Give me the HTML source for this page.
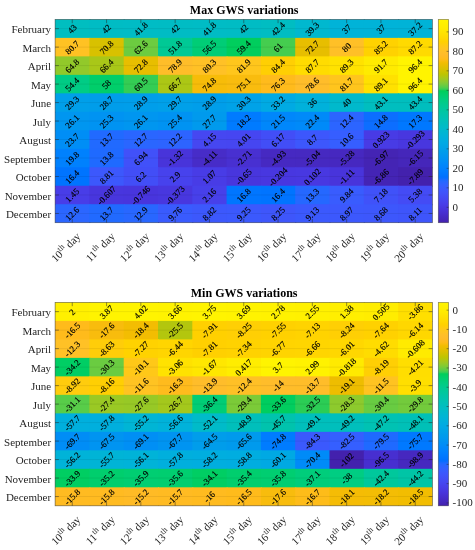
<!DOCTYPE html>
<html><head><meta charset="utf-8"><title>GWS variations</title><style>
html,body{margin:0;padding:0;background:#fff}
svg{display:block;font-family:"Liberation Serif",serif}
text{fill:#262626}
.title{font-weight:bold;font-size:12px;fill:#000}
.v text{font-size:8.8px;fill:#000;text-anchor:middle;stroke:#000;stroke-width:0.15px}
.yl text{font-size:11px;text-anchor:end}
.cl text{font-size:11px;text-anchor:start}
.xl text{font-size:11px;text-anchor:end}
.sup{font-size:8.4px}
</style></head><body>
<svg width="475" height="550" viewBox="0 0 475 550">
<rect width="475" height="550" fill="#fff"/>
<text class="title" x="244.15" y="14.4" text-anchor="middle">Max GWS variations</text>
<g transform="translate(55.1,19.4)">
<g>
<rect x="0" y="0" width="35.3" height="19.48" fill="#00bec0"/>
<rect x="34.3" y="0" width="35.3" height="19.48" fill="#00bcc4"/>
<rect x="68.6" y="0" width="35.3" height="19.48" fill="#00bcc5"/>
<rect x="102.9" y="0" width="35.3" height="19.48" fill="#00bcc4"/>
<rect x="137.2" y="0" width="35.3" height="19.48" fill="#00bcc5"/>
<rect x="171.5" y="0" width="35.3" height="19.48" fill="#00bcc4"/>
<rect x="205.8" y="0" width="35.3" height="19.48" fill="#00bdc2"/>
<rect x="240.1" y="0" width="35.3" height="19.48" fill="#00b8cf"/>
<rect x="274.4" y="0" width="35.3" height="19.48" fill="#00b3d8"/>
<rect x="308.7" y="0" width="35.3" height="19.48" fill="#00b3d8"/>
<rect x="343" y="0" width="34.3" height="19.48" fill="#00b3d7"/>
<rect x="0" y="18.48" width="35.3" height="19.48" fill="#ffc223"/>
<rect x="34.3" y="18.48" width="35.3" height="19.48" fill="#d8c100"/>
<rect x="68.6" y="18.48" width="35.3" height="19.48" fill="#6ccc40"/>
<rect x="102.9" y="18.48" width="35.3" height="19.48" fill="#00c995"/>
<rect x="137.2" y="18.48" width="35.3" height="19.48" fill="#00cd76"/>
<rect x="171.5" y="18.48" width="35.3" height="19.48" fill="#00ce5d"/>
<rect x="205.8" y="18.48" width="35.3" height="19.48" fill="#45cd4f"/>
<rect x="240.1" y="18.48" width="35.3" height="19.48" fill="#e7be00"/>
<rect x="274.4" y="18.48" width="35.3" height="19.48" fill="#ffc027"/>
<rect x="308.7" y="18.48" width="35.3" height="19.48" fill="#ffd200"/>
<rect x="343" y="18.48" width="34.3" height="19.48" fill="#ffda00"/>
<rect x="0" y="36.96" width="35.3" height="19.48" fill="#92c92a"/>
<rect x="34.3" y="36.96" width="35.3" height="19.48" fill="#a9c718"/>
<rect x="68.6" y="36.96" width="35.3" height="19.48" fill="#e8be00"/>
<rect x="102.9" y="36.96" width="35.3" height="19.48" fill="#ffbd29"/>
<rect x="137.2" y="36.96" width="35.3" height="19.48" fill="#ffc126"/>
<rect x="171.5" y="36.96" width="35.3" height="19.48" fill="#ffc61c"/>
<rect x="205.8" y="36.96" width="35.3" height="19.48" fill="#ffcf03"/>
<rect x="240.1" y="36.96" width="35.3" height="19.48" fill="#ffdc00"/>
<rect x="274.4" y="36.96" width="35.3" height="19.48" fill="#ffe200"/>
<rect x="308.7" y="36.96" width="35.3" height="19.48" fill="#ffeb00"/>
<rect x="343" y="36.96" width="34.3" height="19.48" fill="#fff400"/>
<rect x="0" y="55.45" width="35.3" height="19.48" fill="#00cc85"/>
<rect x="34.3" y="55.45" width="35.3" height="19.48" fill="#00ce6a"/>
<rect x="68.6" y="55.45" width="35.3" height="19.48" fill="#34cd54"/>
<rect x="102.9" y="55.45" width="35.3" height="19.48" fill="#acc715"/>
<rect x="137.2" y="55.45" width="35.3" height="19.48" fill="#f7bc09"/>
<rect x="171.5" y="55.45" width="35.3" height="19.48" fill="#f9bc0e"/>
<rect x="205.8" y="55.45" width="35.3" height="19.48" fill="#ffbb1c"/>
<rect x="240.1" y="55.45" width="35.3" height="19.48" fill="#ffbd2a"/>
<rect x="274.4" y="55.45" width="35.3" height="19.48" fill="#ffc51d"/>
<rect x="308.7" y="55.45" width="35.3" height="19.48" fill="#ffe100"/>
<rect x="343" y="55.45" width="34.3" height="19.48" fill="#fff400"/>
<rect x="0" y="73.93" width="35.3" height="19.48" fill="#009fe9"/>
<rect x="34.3" y="73.93" width="35.3" height="19.48" fill="#009dea"/>
<rect x="68.6" y="73.93" width="35.3" height="19.48" fill="#009eea"/>
<rect x="102.9" y="73.93" width="35.3" height="19.48" fill="#00a0e9"/>
<rect x="137.2" y="73.93" width="35.3" height="19.48" fill="#009eea"/>
<rect x="171.5" y="73.93" width="35.3" height="19.48" fill="#00a2e8"/>
<rect x="205.8" y="73.93" width="35.3" height="19.48" fill="#00aae3"/>
<rect x="240.1" y="73.93" width="35.3" height="19.48" fill="#00b1db"/>
<rect x="274.4" y="73.93" width="35.3" height="19.48" fill="#00b9cc"/>
<rect x="308.7" y="73.93" width="35.3" height="19.48" fill="#00bebf"/>
<rect x="343" y="73.93" width="34.3" height="19.48" fill="#00bebe"/>
<rect x="0" y="92.41" width="35.3" height="19.48" fill="#0096f0"/>
<rect x="34.3" y="92.41" width="35.3" height="19.48" fill="#0093f2"/>
<rect x="68.6" y="92.41" width="35.3" height="19.48" fill="#0096f0"/>
<rect x="102.9" y="92.41" width="35.3" height="19.48" fill="#0093f2"/>
<rect x="137.2" y="92.41" width="35.3" height="19.48" fill="#009aed"/>
<rect x="171.5" y="92.41" width="35.3" height="19.48" fill="#007bff"/>
<rect x="205.8" y="92.41" width="35.3" height="19.48" fill="#0087fb"/>
<rect x="240.1" y="92.41" width="35.3" height="19.48" fill="#008af9"/>
<rect x="274.4" y="92.41" width="35.3" height="19.48" fill="#2c65ff"/>
<rect x="308.7" y="92.41" width="35.3" height="19.48" fill="#0c6eff"/>
<rect x="343" y="92.41" width="34.3" height="19.48" fill="#0078ff"/>
<rect x="0" y="110.89" width="35.3" height="19.48" fill="#008ef6"/>
<rect x="34.3" y="110.89" width="35.3" height="19.48" fill="#216aff"/>
<rect x="68.6" y="110.89" width="35.3" height="19.48" fill="#2a66ff"/>
<rect x="102.9" y="110.89" width="35.3" height="19.48" fill="#2d64ff"/>
<rect x="137.2" y="110.89" width="35.3" height="19.48" fill="#4647f1"/>
<rect x="171.5" y="110.89" width="35.3" height="19.48" fill="#4646f1"/>
<rect x="205.8" y="110.89" width="35.3" height="19.48" fill="#424ef7"/>
<rect x="240.1" y="110.89" width="35.3" height="19.48" fill="#3d57fc"/>
<rect x="274.4" y="110.89" width="35.3" height="19.48" fill="#365eff"/>
<rect x="308.7" y="110.89" width="35.3" height="19.48" fill="#483be5"/>
<rect x="343" y="110.89" width="34.3" height="19.48" fill="#4837df"/>
<rect x="0" y="129.37" width="35.3" height="19.48" fill="#0081fe"/>
<rect x="34.3" y="129.37" width="35.3" height="19.48" fill="#1f6aff"/>
<rect x="68.6" y="129.37" width="35.3" height="19.48" fill="#4151f9"/>
<rect x="102.9" y="129.37" width="35.3" height="19.48" fill="#4834da"/>
<rect x="137.2" y="129.37" width="35.3" height="19.48" fill="#472cc8"/>
<rect x="171.5" y="129.37" width="35.3" height="19.48" fill="#4830d1"/>
<rect x="205.8" y="129.37" width="35.3" height="19.48" fill="#4629c2"/>
<rect x="240.1" y="129.37" width="35.3" height="19.48" fill="#4629c1"/>
<rect x="274.4" y="129.37" width="35.3" height="19.48" fill="#4628c0"/>
<rect x="308.7" y="129.37" width="35.3" height="19.48" fill="#4424b4"/>
<rect x="343" y="129.37" width="34.3" height="19.48" fill="#4526ba"/>
<rect x="0" y="147.85" width="35.3" height="19.48" fill="#0074ff"/>
<rect x="34.3" y="147.85" width="35.3" height="19.48" fill="#3c58fc"/>
<rect x="68.6" y="147.85" width="35.3" height="19.48" fill="#424ef7"/>
<rect x="102.9" y="147.85" width="35.3" height="19.48" fill="#4742ed"/>
<rect x="137.2" y="147.85" width="35.3" height="19.48" fill="#483ce6"/>
<rect x="171.5" y="147.85" width="35.3" height="19.48" fill="#4836dd"/>
<rect x="205.8" y="147.85" width="35.3" height="19.48" fill="#4837e0"/>
<rect x="240.1" y="147.85" width="35.3" height="19.48" fill="#4838e1"/>
<rect x="274.4" y="147.85" width="35.3" height="19.48" fill="#4834db"/>
<rect x="308.7" y="147.85" width="35.3" height="19.48" fill="#4424b5"/>
<rect x="343" y="147.85" width="34.3" height="19.48" fill="#4321ad"/>
<rect x="0" y="166.34" width="35.3" height="19.48" fill="#483de8"/>
<rect x="34.3" y="166.34" width="35.3" height="19.48" fill="#4836de"/>
<rect x="68.6" y="166.34" width="35.3" height="19.48" fill="#4835dd"/>
<rect x="102.9" y="166.34" width="35.3" height="19.48" fill="#4837df"/>
<rect x="137.2" y="166.34" width="35.3" height="19.48" fill="#4740ea"/>
<rect x="171.5" y="166.34" width="35.3" height="19.48" fill="#0076ff"/>
<rect x="205.8" y="166.34" width="35.3" height="19.48" fill="#0074ff"/>
<rect x="240.1" y="166.34" width="35.3" height="19.48" fill="#2568ff"/>
<rect x="274.4" y="166.34" width="35.3" height="19.48" fill="#395cfe"/>
<rect x="308.7" y="166.34" width="35.3" height="19.48" fill="#4052f9"/>
<rect x="343" y="166.34" width="34.3" height="19.48" fill="#444bf5"/>
<rect x="0" y="184.82" width="35.3" height="18.48" fill="#2b66ff"/>
<rect x="34.3" y="184.82" width="35.3" height="18.48" fill="#216aff"/>
<rect x="68.6" y="184.82" width="35.3" height="18.48" fill="#2867ff"/>
<rect x="102.9" y="184.82" width="35.3" height="18.48" fill="#395bfe"/>
<rect x="137.2" y="184.82" width="35.3" height="18.48" fill="#3c58fc"/>
<rect x="171.5" y="184.82" width="35.3" height="18.48" fill="#3b59fd"/>
<rect x="205.8" y="184.82" width="35.3" height="18.48" fill="#3e56fb"/>
<rect x="240.1" y="184.82" width="35.3" height="18.48" fill="#3b59fd"/>
<rect x="274.4" y="184.82" width="35.3" height="18.48" fill="#3c58fd"/>
<rect x="308.7" y="184.82" width="35.3" height="18.48" fill="#3d57fc"/>
<rect x="343" y="184.82" width="34.3" height="18.48" fill="#3e55fb"/>
</g>
<g stroke="#000" stroke-opacity="0.1" stroke-width="0.7">
<line x1="0" x2="377.3" y1="9.24" y2="9.24"/>
<line x1="0" x2="377.3" y1="27.72" y2="27.72"/>
<line x1="0" x2="377.3" y1="46.2" y2="46.2"/>
<line x1="0" x2="377.3" y1="64.69" y2="64.69"/>
<line x1="0" x2="377.3" y1="83.17" y2="83.17"/>
<line x1="0" x2="377.3" y1="101.65" y2="101.65"/>
<line x1="0" x2="377.3" y1="120.13" y2="120.13"/>
<line x1="0" x2="377.3" y1="138.61" y2="138.61"/>
<line x1="0" x2="377.3" y1="157.1" y2="157.1"/>
<line x1="0" x2="377.3" y1="175.58" y2="175.58"/>
<line x1="0" x2="377.3" y1="194.06" y2="194.06"/>
</g>
<g stroke="#262626" stroke-opacity="0.7" stroke-width="0.7">
<line x1="0" x2="3.8" y1="9.24" y2="9.24"/>
<line x1="373.5" x2="377.3" y1="9.24" y2="9.24"/>
<line x1="0" x2="3.8" y1="27.72" y2="27.72"/>
<line x1="373.5" x2="377.3" y1="27.72" y2="27.72"/>
<line x1="0" x2="3.8" y1="46.2" y2="46.2"/>
<line x1="373.5" x2="377.3" y1="46.2" y2="46.2"/>
<line x1="0" x2="3.8" y1="64.69" y2="64.69"/>
<line x1="373.5" x2="377.3" y1="64.69" y2="64.69"/>
<line x1="0" x2="3.8" y1="83.17" y2="83.17"/>
<line x1="373.5" x2="377.3" y1="83.17" y2="83.17"/>
<line x1="0" x2="3.8" y1="101.65" y2="101.65"/>
<line x1="373.5" x2="377.3" y1="101.65" y2="101.65"/>
<line x1="0" x2="3.8" y1="120.13" y2="120.13"/>
<line x1="373.5" x2="377.3" y1="120.13" y2="120.13"/>
<line x1="0" x2="3.8" y1="138.61" y2="138.61"/>
<line x1="373.5" x2="377.3" y1="138.61" y2="138.61"/>
<line x1="0" x2="3.8" y1="157.1" y2="157.1"/>
<line x1="373.5" x2="377.3" y1="157.1" y2="157.1"/>
<line x1="0" x2="3.8" y1="175.58" y2="175.58"/>
<line x1="373.5" x2="377.3" y1="175.58" y2="175.58"/>
<line x1="0" x2="3.8" y1="194.06" y2="194.06"/>
<line x1="373.5" x2="377.3" y1="194.06" y2="194.06"/>
<line x1="17.15" x2="17.15" y1="0" y2="3.8"/>
<line x1="17.15" x2="17.15" y1="199.5" y2="203.3"/>
<line x1="51.45" x2="51.45" y1="0" y2="3.8"/>
<line x1="51.45" x2="51.45" y1="199.5" y2="203.3"/>
<line x1="85.75" x2="85.75" y1="0" y2="3.8"/>
<line x1="85.75" x2="85.75" y1="199.5" y2="203.3"/>
<line x1="120.05" x2="120.05" y1="0" y2="3.8"/>
<line x1="120.05" x2="120.05" y1="199.5" y2="203.3"/>
<line x1="154.35" x2="154.35" y1="0" y2="3.8"/>
<line x1="154.35" x2="154.35" y1="199.5" y2="203.3"/>
<line x1="188.65" x2="188.65" y1="0" y2="3.8"/>
<line x1="188.65" x2="188.65" y1="199.5" y2="203.3"/>
<line x1="222.95" x2="222.95" y1="0" y2="3.8"/>
<line x1="222.95" x2="222.95" y1="199.5" y2="203.3"/>
<line x1="257.25" x2="257.25" y1="0" y2="3.8"/>
<line x1="257.25" x2="257.25" y1="199.5" y2="203.3"/>
<line x1="291.55" x2="291.55" y1="0" y2="3.8"/>
<line x1="291.55" x2="291.55" y1="199.5" y2="203.3"/>
<line x1="325.85" x2="325.85" y1="0" y2="3.8"/>
<line x1="325.85" x2="325.85" y1="199.5" y2="203.3"/>
<line x1="360.15" x2="360.15" y1="0" y2="3.8"/>
<line x1="360.15" x2="360.15" y1="199.5" y2="203.3"/>
</g>
<g class="v">
<text transform="translate(17.15,9.64) rotate(-45)" y="2.9">43</text>
<text transform="translate(51.45,9.64) rotate(-45)" y="2.9">42</text>
<text transform="translate(85.75,9.64) rotate(-45)" y="2.9">41.8</text>
<text transform="translate(120.05,9.64) rotate(-45)" y="2.9">42</text>
<text transform="translate(154.35,9.64) rotate(-45)" y="2.9">41.8</text>
<text transform="translate(188.65,9.64) rotate(-45)" y="2.9">42</text>
<text transform="translate(222.95,9.64) rotate(-45)" y="2.9">42.4</text>
<text transform="translate(257.25,9.64) rotate(-45)" y="2.9">39.3</text>
<text transform="translate(291.55,9.64) rotate(-45)" y="2.9">37</text>
<text transform="translate(325.85,9.64) rotate(-45)" y="2.9">37</text>
<text transform="translate(360.15,9.64) rotate(-45)" y="2.9">37.2</text>
<text transform="translate(17.15,28.12) rotate(-45)" y="2.9">80.7</text>
<text transform="translate(51.45,28.12) rotate(-45)" y="2.9">70.8</text>
<text transform="translate(85.75,28.12) rotate(-45)" y="2.9">62.6</text>
<text transform="translate(120.05,28.12) rotate(-45)" y="2.9">51.8</text>
<text transform="translate(154.35,28.12) rotate(-45)" y="2.9">56.5</text>
<text transform="translate(188.65,28.12) rotate(-45)" y="2.9">59.4</text>
<text transform="translate(222.95,28.12) rotate(-45)" y="2.9">61</text>
<text transform="translate(257.25,28.12) rotate(-45)" y="2.9">72.7</text>
<text transform="translate(291.55,28.12) rotate(-45)" y="2.9">80</text>
<text transform="translate(325.85,28.12) rotate(-45)" y="2.9">85.2</text>
<text transform="translate(360.15,28.12) rotate(-45)" y="2.9">87.2</text>
<text transform="translate(17.15,46.6) rotate(-45)" y="2.9">64.8</text>
<text transform="translate(51.45,46.6) rotate(-45)" y="2.9">66.4</text>
<text transform="translate(85.75,46.6) rotate(-45)" y="2.9">72.8</text>
<text transform="translate(120.05,46.6) rotate(-45)" y="2.9">78.9</text>
<text transform="translate(154.35,46.6) rotate(-45)" y="2.9">80.3</text>
<text transform="translate(188.65,46.6) rotate(-45)" y="2.9">81.9</text>
<text transform="translate(222.95,46.6) rotate(-45)" y="2.9">84.4</text>
<text transform="translate(257.25,46.6) rotate(-45)" y="2.9">87.7</text>
<text transform="translate(291.55,46.6) rotate(-45)" y="2.9">89.3</text>
<text transform="translate(325.85,46.6) rotate(-45)" y="2.9">91.7</text>
<text transform="translate(360.15,46.6) rotate(-45)" y="2.9">96.4</text>
<text transform="translate(17.15,65.09) rotate(-45)" y="2.9">54.4</text>
<text transform="translate(51.45,65.09) rotate(-45)" y="2.9">58</text>
<text transform="translate(85.75,65.09) rotate(-45)" y="2.9">60.5</text>
<text transform="translate(120.05,65.09) rotate(-45)" y="2.9">66.7</text>
<text transform="translate(154.35,65.09) rotate(-45)" y="2.9">74.8</text>
<text transform="translate(188.65,65.09) rotate(-45)" y="2.9">75.1</text>
<text transform="translate(222.95,65.09) rotate(-45)" y="2.9">76.3</text>
<text transform="translate(257.25,65.09) rotate(-45)" y="2.9">78.6</text>
<text transform="translate(291.55,65.09) rotate(-45)" y="2.9">81.7</text>
<text transform="translate(325.85,65.09) rotate(-45)" y="2.9">89.1</text>
<text transform="translate(360.15,65.09) rotate(-45)" y="2.9">96.4</text>
<text transform="translate(17.15,83.57) rotate(-45)" y="2.9">29.3</text>
<text transform="translate(51.45,83.57) rotate(-45)" y="2.9">28.7</text>
<text transform="translate(85.75,83.57) rotate(-45)" y="2.9">28.9</text>
<text transform="translate(120.05,83.57) rotate(-45)" y="2.9">29.7</text>
<text transform="translate(154.35,83.57) rotate(-45)" y="2.9">28.9</text>
<text transform="translate(188.65,83.57) rotate(-45)" y="2.9">30.3</text>
<text transform="translate(222.95,83.57) rotate(-45)" y="2.9">33.2</text>
<text transform="translate(257.25,83.57) rotate(-45)" y="2.9">36</text>
<text transform="translate(291.55,83.57) rotate(-45)" y="2.9">40</text>
<text transform="translate(325.85,83.57) rotate(-45)" y="2.9">43.1</text>
<text transform="translate(360.15,83.57) rotate(-45)" y="2.9">43.4</text>
<text transform="translate(17.15,102.05) rotate(-45)" y="2.9">26.1</text>
<text transform="translate(51.45,102.05) rotate(-45)" y="2.9">25.3</text>
<text transform="translate(85.75,102.05) rotate(-45)" y="2.9">26.1</text>
<text transform="translate(120.05,102.05) rotate(-45)" y="2.9">25.4</text>
<text transform="translate(154.35,102.05) rotate(-45)" y="2.9">27.7</text>
<text transform="translate(188.65,102.05) rotate(-45)" y="2.9">18.2</text>
<text transform="translate(222.95,102.05) rotate(-45)" y="2.9">21.5</text>
<text transform="translate(257.25,102.05) rotate(-45)" y="2.9">22.4</text>
<text transform="translate(291.55,102.05) rotate(-45)" y="2.9">12.4</text>
<text transform="translate(325.85,102.05) rotate(-45)" y="2.9">14.8</text>
<text transform="translate(360.15,102.05) rotate(-45)" y="2.9">17.3</text>
<text transform="translate(17.15,120.53) rotate(-45)" y="2.9">23.7</text>
<text transform="translate(51.45,120.53) rotate(-45)" y="2.9">13.7</text>
<text transform="translate(85.75,120.53) rotate(-45)" y="2.9">12.7</text>
<text transform="translate(120.05,120.53) rotate(-45)" y="2.9">12.2</text>
<text transform="translate(154.35,120.53) rotate(-45)" y="2.9">4.15</text>
<text transform="translate(188.65,120.53) rotate(-45)" y="2.9">4.01</text>
<text transform="translate(222.95,120.53) rotate(-45)" y="2.9">6.17</text>
<text transform="translate(257.25,120.53) rotate(-45)" y="2.9">8.7</text>
<text transform="translate(291.55,120.53) rotate(-45)" y="2.9">10.6</text>
<text transform="translate(325.85,120.53) rotate(-45)" y="2.9">0.923</text>
<text transform="translate(360.15,120.53) rotate(-45)" y="2.9">-0.293</text>
<text transform="translate(17.15,139.01) rotate(-45)" y="2.9">19.8</text>
<text transform="translate(51.45,139.01) rotate(-45)" y="2.9">13.8</text>
<text transform="translate(85.75,139.01) rotate(-45)" y="2.9">6.94</text>
<text transform="translate(120.05,139.01) rotate(-45)" y="2.9">-1.32</text>
<text transform="translate(154.35,139.01) rotate(-45)" y="2.9">-4.11</text>
<text transform="translate(188.65,139.01) rotate(-45)" y="2.9">-2.71</text>
<text transform="translate(222.95,139.01) rotate(-45)" y="2.9">-4.93</text>
<text transform="translate(257.25,139.01) rotate(-45)" y="2.9">-5.04</text>
<text transform="translate(291.55,139.01) rotate(-45)" y="2.9">-5.28</text>
<text transform="translate(325.85,139.01) rotate(-45)" y="2.9">-6.97</text>
<text transform="translate(360.15,139.01) rotate(-45)" y="2.9">-6.15</text>
<text transform="translate(17.15,157.5) rotate(-45)" y="2.9">16.4</text>
<text transform="translate(51.45,157.5) rotate(-45)" y="2.9">8.81</text>
<text transform="translate(85.75,157.5) rotate(-45)" y="2.9">6.2</text>
<text transform="translate(120.05,157.5) rotate(-45)" y="2.9">2.9</text>
<text transform="translate(154.35,157.5) rotate(-45)" y="2.9">1.07</text>
<text transform="translate(188.65,157.5) rotate(-45)" y="2.9">-0.65</text>
<text transform="translate(222.95,157.5) rotate(-45)" y="2.9">-0.204</text>
<text transform="translate(257.25,157.5) rotate(-45)" y="2.9">0.102</text>
<text transform="translate(291.55,157.5) rotate(-45)" y="2.9">-1.11</text>
<text transform="translate(325.85,157.5) rotate(-45)" y="2.9">-6.86</text>
<text transform="translate(360.15,157.5) rotate(-45)" y="2.9">-7.89</text>
<text transform="translate(17.15,175.98) rotate(-45)" y="2.9">1.45</text>
<text transform="translate(51.45,175.98) rotate(-45)" y="2.9">-0.607</text>
<text transform="translate(85.75,175.98) rotate(-45)" y="2.9">-0.746</text>
<text transform="translate(120.05,175.98) rotate(-45)" y="2.9">-0.373</text>
<text transform="translate(154.35,175.98) rotate(-45)" y="2.9">2.16</text>
<text transform="translate(188.65,175.98) rotate(-45)" y="2.9">16.8</text>
<text transform="translate(222.95,175.98) rotate(-45)" y="2.9">16.4</text>
<text transform="translate(257.25,175.98) rotate(-45)" y="2.9">13.3</text>
<text transform="translate(291.55,175.98) rotate(-45)" y="2.9">9.84</text>
<text transform="translate(325.85,175.98) rotate(-45)" y="2.9">7.18</text>
<text transform="translate(360.15,175.98) rotate(-45)" y="2.9">5.38</text>
<text transform="translate(17.15,194.46) rotate(-45)" y="2.9">12.6</text>
<text transform="translate(51.45,194.46) rotate(-45)" y="2.9">13.7</text>
<text transform="translate(85.75,194.46) rotate(-45)" y="2.9">12.9</text>
<text transform="translate(120.05,194.46) rotate(-45)" y="2.9">9.76</text>
<text transform="translate(154.35,194.46) rotate(-45)" y="2.9">8.82</text>
<text transform="translate(188.65,194.46) rotate(-45)" y="2.9">9.25</text>
<text transform="translate(222.95,194.46) rotate(-45)" y="2.9">8.25</text>
<text transform="translate(257.25,194.46) rotate(-45)" y="2.9">9.13</text>
<text transform="translate(291.55,194.46) rotate(-45)" y="2.9">8.97</text>
<text transform="translate(325.85,194.46) rotate(-45)" y="2.9">8.68</text>
<text transform="translate(360.15,194.46) rotate(-45)" y="2.9">8.11</text>
</g>
<rect x="0" y="0" width="377.3" height="203.3" fill="none" stroke="#262626" stroke-opacity="0.65" stroke-width="0.7"/>
</g>
<g class="yl">
<text x="51.1" y="33.34">February</text>
<text x="51.1" y="51.82">March</text>
<text x="51.1" y="70.3">April</text>
<text x="51.1" y="88.79">May</text>
<text x="51.1" y="107.27">June</text>
<text x="51.1" y="125.75">July</text>
<text x="51.1" y="144.23">August</text>
<text x="51.1" y="162.71">September</text>
<text x="51.1" y="181.2">October</text>
<text x="51.1" y="199.68">November</text>
<text x="51.1" y="218.16">December</text>
</g>
<g class="xl">
<text transform="translate(81.25,237.2) rotate(-45)">10<tspan class="sup" dy="-4.4">th</tspan><tspan dy="4.4"> day</tspan></text>
<text transform="translate(115.55,237.2) rotate(-45)">11<tspan class="sup" dy="-4.4">th</tspan><tspan dy="4.4"> day</tspan></text>
<text transform="translate(149.85,237.2) rotate(-45)">12<tspan class="sup" dy="-4.4">th</tspan><tspan dy="4.4"> day</tspan></text>
<text transform="translate(184.15,237.2) rotate(-45)">13<tspan class="sup" dy="-4.4">th</tspan><tspan dy="4.4"> day</tspan></text>
<text transform="translate(218.45,237.2) rotate(-45)">14<tspan class="sup" dy="-4.4">th</tspan><tspan dy="4.4"> day</tspan></text>
<text transform="translate(252.75,237.2) rotate(-45)">15<tspan class="sup" dy="-4.4">th</tspan><tspan dy="4.4"> day</tspan></text>
<text transform="translate(287.05,237.2) rotate(-45)">16<tspan class="sup" dy="-4.4">th</tspan><tspan dy="4.4"> day</tspan></text>
<text transform="translate(321.35,237.2) rotate(-45)">17<tspan class="sup" dy="-4.4">th</tspan><tspan dy="4.4"> day</tspan></text>
<text transform="translate(355.65,237.2) rotate(-45)">18<tspan class="sup" dy="-4.4">th</tspan><tspan dy="4.4"> day</tspan></text>
<text transform="translate(389.95,237.2) rotate(-45)">19<tspan class="sup" dy="-4.4">th</tspan><tspan dy="4.4"> day</tspan></text>
<text transform="translate(424.25,237.2) rotate(-45)">20<tspan class="sup" dy="-4.4">th</tspan><tspan dy="4.4"> day</tspan></text>
</g>
<defs><linearGradient id="g1" x1="0" y1="0" x2="0" y2="1"><stop offset="0%" stop-color="#fff400"/><stop offset="0.78%" stop-color="#fff300"/><stop offset="1.56%" stop-color="#fff100"/><stop offset="2.34%" stop-color="#ffef00"/><stop offset="3.12%" stop-color="#ffee00"/><stop offset="3.91%" stop-color="#ffec00"/><stop offset="4.69%" stop-color="#ffea00"/><stop offset="5.47%" stop-color="#ffe700"/><stop offset="6.25%" stop-color="#ffe400"/><stop offset="7.03%" stop-color="#ffe100"/><stop offset="7.81%" stop-color="#ffde00"/><stop offset="8.59%" stop-color="#ffdb00"/><stop offset="9.38%" stop-color="#ffd800"/><stop offset="10.16%" stop-color="#ffd400"/><stop offset="10.94%" stop-color="#ffd100"/><stop offset="11.72%" stop-color="#ffce06"/><stop offset="12.5%" stop-color="#ffcb0f"/><stop offset="13.28%" stop-color="#ffc817"/><stop offset="14.06%" stop-color="#ffc61d"/><stop offset="14.84%" stop-color="#ffc322"/><stop offset="15.62%" stop-color="#ffc027"/><stop offset="16.41%" stop-color="#ffbe29"/><stop offset="17.19%" stop-color="#ffbc2a"/><stop offset="17.97%" stop-color="#ffbb27"/><stop offset="18.75%" stop-color="#ffbb21"/><stop offset="19.53%" stop-color="#ffbb1a"/><stop offset="20.31%" stop-color="#fabc10"/><stop offset="21.09%" stop-color="#f4bd03"/><stop offset="21.88%" stop-color="#eebd00"/><stop offset="22.66%" stop-color="#e8be00"/><stop offset="23.44%" stop-color="#e1bf00"/><stop offset="24.22%" stop-color="#dbc000"/><stop offset="25%" stop-color="#d3c100"/><stop offset="25.78%" stop-color="#cbc300"/><stop offset="26.56%" stop-color="#c3c400"/><stop offset="27.34%" stop-color="#bac504"/><stop offset="28.12%" stop-color="#b1c610"/><stop offset="28.91%" stop-color="#a7c71a"/><stop offset="29.69%" stop-color="#9cc823"/><stop offset="30.47%" stop-color="#8fca2b"/><stop offset="31.25%" stop-color="#82cb34"/><stop offset="32.03%" stop-color="#74cb3c"/><stop offset="32.81%" stop-color="#63cc44"/><stop offset="33.59%" stop-color="#50cd4c"/><stop offset="34.38%" stop-color="#36cd53"/><stop offset="35.16%" stop-color="#00ce5a"/><stop offset="35.94%" stop-color="#00ce62"/><stop offset="36.72%" stop-color="#00ce69"/><stop offset="37.5%" stop-color="#00ce6f"/><stop offset="38.28%" stop-color="#00cd76"/><stop offset="39.06%" stop-color="#00cd7c"/><stop offset="39.84%" stop-color="#00cd82"/><stop offset="40.62%" stop-color="#00cc87"/><stop offset="41.41%" stop-color="#00cb8d"/><stop offset="42.19%" stop-color="#00ca92"/><stop offset="42.97%" stop-color="#00c996"/><stop offset="43.75%" stop-color="#00c89b"/><stop offset="44.53%" stop-color="#00c79f"/><stop offset="45.31%" stop-color="#00c6a3"/><stop offset="46.09%" stop-color="#00c5a8"/><stop offset="46.88%" stop-color="#00c4ab"/><stop offset="47.66%" stop-color="#00c3af"/><stop offset="48.44%" stop-color="#00c2b3"/><stop offset="49.22%" stop-color="#00c1b7"/><stop offset="50%" stop-color="#00c0ba"/><stop offset="50.78%" stop-color="#00bebe"/><stop offset="51.56%" stop-color="#00bdc1"/><stop offset="52.34%" stop-color="#00bcc5"/><stop offset="53.12%" stop-color="#00bbc8"/><stop offset="53.91%" stop-color="#00b9cc"/><stop offset="54.69%" stop-color="#00b8cf"/><stop offset="55.47%" stop-color="#00b6d2"/><stop offset="56.25%" stop-color="#00b5d5"/><stop offset="57.03%" stop-color="#00b3d8"/><stop offset="57.81%" stop-color="#00b1db"/><stop offset="58.59%" stop-color="#00afdd"/><stop offset="59.38%" stop-color="#00ade0"/><stop offset="60.16%" stop-color="#00abe2"/><stop offset="60.94%" stop-color="#00a9e4"/><stop offset="61.72%" stop-color="#00a7e5"/><stop offset="62.5%" stop-color="#00a4e6"/><stop offset="63.28%" stop-color="#00a2e8"/><stop offset="64.06%" stop-color="#00a0e9"/><stop offset="64.84%" stop-color="#009dea"/><stop offset="65.62%" stop-color="#009bec"/><stop offset="66.41%" stop-color="#0099ee"/><stop offset="67.19%" stop-color="#0096f0"/><stop offset="67.97%" stop-color="#0094f1"/><stop offset="68.75%" stop-color="#0091f3"/><stop offset="69.53%" stop-color="#008ff6"/><stop offset="70.31%" stop-color="#008cf8"/><stop offset="71.09%" stop-color="#0089fa"/><stop offset="71.88%" stop-color="#0086fb"/><stop offset="72.66%" stop-color="#0084fd"/><stop offset="73.44%" stop-color="#0081fe"/><stop offset="74.22%" stop-color="#007eff"/><stop offset="75%" stop-color="#007bff"/><stop offset="75.78%" stop-color="#0078ff"/><stop offset="76.56%" stop-color="#0075ff"/><stop offset="77.34%" stop-color="#0071ff"/><stop offset="78.12%" stop-color="#086eff"/><stop offset="78.91%" stop-color="#1b6bff"/><stop offset="79.69%" stop-color="#2568ff"/><stop offset="80.47%" stop-color="#2b65ff"/><stop offset="81.25%" stop-color="#3162ff"/><stop offset="82.03%" stop-color="#355fff"/><stop offset="82.81%" stop-color="#385cfe"/><stop offset="83.59%" stop-color="#3b59fd"/><stop offset="84.38%" stop-color="#3e56fc"/><stop offset="85.16%" stop-color="#4054fa"/><stop offset="85.94%" stop-color="#4151f8"/><stop offset="86.72%" stop-color="#434ef6"/><stop offset="87.5%" stop-color="#444bf4"/><stop offset="88.28%" stop-color="#4548f2"/><stop offset="89.06%" stop-color="#4645ef"/><stop offset="89.84%" stop-color="#4742ec"/><stop offset="90.62%" stop-color="#483fe9"/><stop offset="91.41%" stop-color="#483ce6"/><stop offset="92.19%" stop-color="#4839e2"/><stop offset="92.97%" stop-color="#4836de"/><stop offset="93.75%" stop-color="#4833da"/><stop offset="94.53%" stop-color="#4831d4"/><stop offset="95.31%" stop-color="#472fcf"/><stop offset="96.09%" stop-color="#472cca"/><stop offset="96.88%" stop-color="#462ac4"/><stop offset="97.66%" stop-color="#4528bf"/><stop offset="98.44%" stop-color="#4526b9"/><stop offset="99.22%" stop-color="#4423b3"/><stop offset="100%" stop-color="#4321ad"/></linearGradient></defs>
<rect x="438.3" y="19.4" width="10.3" height="203.3" fill="url(#g1)" stroke="#262626" stroke-opacity="0.55" stroke-width="0.7"/>
<g stroke="#262626" stroke-opacity="0.7" stroke-width="0.7">
<line x1="446.6" x2="448.6" y1="31.88" y2="31.88"/>
<line x1="446.6" x2="448.6" y1="51.37" y2="51.37"/>
<line x1="446.6" x2="448.6" y1="70.86" y2="70.86"/>
<line x1="446.6" x2="448.6" y1="90.36" y2="90.36"/>
<line x1="446.6" x2="448.6" y1="109.85" y2="109.85"/>
<line x1="446.6" x2="448.6" y1="129.34" y2="129.34"/>
<line x1="446.6" x2="448.6" y1="148.84" y2="148.84"/>
<line x1="446.6" x2="448.6" y1="168.33" y2="168.33"/>
<line x1="446.6" x2="448.6" y1="187.83" y2="187.83"/>
<line x1="446.6" x2="448.6" y1="207.32" y2="207.32"/>
</g>
<g class="cl">
<text x="452.5" y="35.38">90</text>
<text x="452.5" y="54.87">80</text>
<text x="452.5" y="74.36">70</text>
<text x="452.5" y="93.86">60</text>
<text x="452.5" y="113.35">50</text>
<text x="452.5" y="132.84">40</text>
<text x="452.5" y="152.34">30</text>
<text x="452.5" y="171.83">20</text>
<text x="452.5" y="191.33">10</text>
<text x="452.5" y="210.82">0</text>
</g>
<text class="title" x="244.15" y="297.4" text-anchor="middle">Min GWS variations</text>
<g transform="translate(55.1,302.4)">
<g>
<rect x="0" y="0" width="35.3" height="19.49" fill="#fff000"/>
<rect x="34.3" y="0" width="35.3" height="19.49" fill="#fff400"/>
<rect x="68.6" y="0" width="35.3" height="19.49" fill="#fff400"/>
<rect x="102.9" y="0" width="35.3" height="19.49" fill="#fff300"/>
<rect x="137.2" y="0" width="35.3" height="19.49" fill="#fff400"/>
<rect x="171.5" y="0" width="35.3" height="19.49" fill="#fff300"/>
<rect x="205.8" y="0" width="35.3" height="19.49" fill="#fff200"/>
<rect x="240.1" y="0" width="35.3" height="19.49" fill="#fff100"/>
<rect x="274.4" y="0" width="35.3" height="19.49" fill="#ffef00"/>
<rect x="308.7" y="0" width="35.3" height="19.49" fill="#ffed00"/>
<rect x="343" y="0" width="34.3" height="19.49" fill="#ffdf00"/>
<rect x="0" y="18.49" width="35.3" height="19.49" fill="#ffbb1b"/>
<rect x="34.3" y="18.49" width="35.3" height="19.49" fill="#f8bc0d"/>
<rect x="68.6" y="18.49" width="35.3" height="19.49" fill="#f3bd02"/>
<rect x="102.9" y="18.49" width="35.3" height="19.49" fill="#b3c60e"/>
<rect x="137.2" y="18.49" width="35.3" height="19.49" fill="#ffd000"/>
<rect x="171.5" y="18.49" width="35.3" height="19.49" fill="#ffcf04"/>
<rect x="205.8" y="18.49" width="35.3" height="19.49" fill="#ffd100"/>
<rect x="240.1" y="18.49" width="35.3" height="19.49" fill="#ffd300"/>
<rect x="274.4" y="18.49" width="35.3" height="19.49" fill="#ffcf04"/>
<rect x="308.7" y="18.49" width="35.3" height="19.49" fill="#ffd100"/>
<rect x="343" y="18.49" width="34.3" height="19.49" fill="#ffd700"/>
<rect x="0" y="36.98" width="35.3" height="19.49" fill="#ffc126"/>
<rect x="34.3" y="36.98" width="35.3" height="19.49" fill="#ffcd09"/>
<rect x="68.6" y="36.98" width="35.3" height="19.49" fill="#ffd200"/>
<rect x="102.9" y="36.98" width="35.3" height="19.49" fill="#ffd500"/>
<rect x="137.2" y="36.98" width="35.3" height="19.49" fill="#ffd000"/>
<rect x="171.5" y="36.98" width="35.3" height="19.49" fill="#ffd200"/>
<rect x="205.8" y="36.98" width="35.3" height="19.49" fill="#ffd400"/>
<rect x="240.1" y="36.98" width="35.3" height="19.49" fill="#ffd500"/>
<rect x="274.4" y="36.98" width="35.3" height="19.49" fill="#ffd700"/>
<rect x="308.7" y="36.98" width="35.3" height="19.49" fill="#ffdc00"/>
<rect x="343" y="36.98" width="34.3" height="19.49" fill="#ffeb00"/>
<rect x="0" y="55.47" width="35.3" height="19.49" fill="#00ce64"/>
<rect x="34.3" y="55.47" width="35.3" height="19.49" fill="#6acc41"/>
<rect x="68.6" y="55.47" width="35.3" height="19.49" fill="#ffc818"/>
<rect x="102.9" y="55.47" width="35.3" height="19.49" fill="#ffe200"/>
<rect x="137.2" y="55.47" width="35.3" height="19.49" fill="#ffe700"/>
<rect x="171.5" y="55.47" width="35.3" height="19.49" fill="#ffed00"/>
<rect x="205.8" y="55.47" width="35.3" height="19.49" fill="#fff400"/>
<rect x="240.1" y="55.47" width="35.3" height="19.49" fill="#fff200"/>
<rect x="274.4" y="55.47" width="35.3" height="19.49" fill="#ffea00"/>
<rect x="308.7" y="55.47" width="35.3" height="19.49" fill="#ffcf04"/>
<rect x="343" y="55.47" width="34.3" height="19.49" fill="#ffde00"/>
<rect x="0" y="73.96" width="35.3" height="19.49" fill="#ffcc0d"/>
<rect x="34.3" y="73.96" width="35.3" height="19.49" fill="#ffcf03"/>
<rect x="68.6" y="73.96" width="35.3" height="19.49" fill="#ffc322"/>
<rect x="102.9" y="73.96" width="35.3" height="19.49" fill="#ffbb1d"/>
<rect x="137.2" y="73.96" width="35.3" height="19.49" fill="#ffbd2a"/>
<rect x="171.5" y="73.96" width="35.3" height="19.49" fill="#ffc026"/>
<rect x="205.8" y="73.96" width="35.3" height="19.49" fill="#ffbd2a"/>
<rect x="240.1" y="73.96" width="35.3" height="19.49" fill="#ffbd29"/>
<rect x="274.4" y="73.96" width="35.3" height="19.49" fill="#eebd00"/>
<rect x="308.7" y="73.96" width="35.3" height="19.49" fill="#ffc321"/>
<rect x="343" y="73.96" width="34.3" height="19.49" fill="#ffdf00"/>
<rect x="0" y="92.45" width="35.3" height="19.49" fill="#58cd49"/>
<rect x="34.3" y="92.45" width="35.3" height="19.49" fill="#9ac924"/>
<rect x="68.6" y="92.45" width="35.3" height="19.49" fill="#97c926"/>
<rect x="102.9" y="92.45" width="35.3" height="19.49" fill="#a4c81c"/>
<rect x="137.2" y="92.45" width="35.3" height="19.49" fill="#00cd76"/>
<rect x="171.5" y="92.45" width="35.3" height="19.49" fill="#7bcb38"/>
<rect x="205.8" y="92.45" width="35.3" height="19.49" fill="#00ce5f"/>
<rect x="240.1" y="92.45" width="35.3" height="19.49" fill="#2bcd55"/>
<rect x="274.4" y="92.45" width="35.3" height="19.49" fill="#8dca2d"/>
<rect x="308.7" y="92.45" width="35.3" height="19.49" fill="#68cc42"/>
<rect x="343" y="92.45" width="34.3" height="19.49" fill="#73cb3c"/>
<rect x="0" y="110.95" width="35.3" height="19.49" fill="#00afdd"/>
<rect x="34.3" y="110.95" width="35.3" height="19.49" fill="#00afdd"/>
<rect x="68.6" y="110.95" width="35.3" height="19.49" fill="#00b5d5"/>
<rect x="102.9" y="110.95" width="35.3" height="19.49" fill="#00b2da"/>
<rect x="137.2" y="110.95" width="35.3" height="19.49" fill="#00bbc9"/>
<rect x="171.5" y="110.95" width="35.3" height="19.49" fill="#00bfbb"/>
<rect x="205.8" y="110.95" width="35.3" height="19.49" fill="#00c3ad"/>
<rect x="240.1" y="110.95" width="35.3" height="19.49" fill="#00bfbc"/>
<rect x="274.4" y="110.95" width="35.3" height="19.49" fill="#00bfbc"/>
<rect x="308.7" y="110.95" width="35.3" height="19.49" fill="#00c2b3"/>
<rect x="343" y="110.95" width="34.3" height="19.49" fill="#00c0b7"/>
<rect x="0" y="129.44" width="35.3" height="19.49" fill="#008df6"/>
<rect x="34.3" y="129.44" width="35.3" height="19.49" fill="#0094f1"/>
<rect x="68.6" y="129.44" width="35.3" height="19.49" fill="#008ff5"/>
<rect x="102.9" y="129.44" width="35.3" height="19.49" fill="#0094f1"/>
<rect x="137.2" y="129.44" width="35.3" height="19.49" fill="#009deb"/>
<rect x="171.5" y="129.44" width="35.3" height="19.49" fill="#009aed"/>
<rect x="205.8" y="129.44" width="35.3" height="19.49" fill="#007cff"/>
<rect x="240.1" y="129.44" width="35.3" height="19.49" fill="#3b59fd"/>
<rect x="274.4" y="129.44" width="35.3" height="19.49" fill="#355fff"/>
<rect x="308.7" y="129.44" width="35.3" height="19.49" fill="#1f6aff"/>
<rect x="343" y="129.44" width="34.3" height="19.49" fill="#0079ff"/>
<rect x="0" y="147.93" width="35.3" height="19.49" fill="#00b3d8"/>
<rect x="34.3" y="147.93" width="35.3" height="19.49" fill="#00b4d6"/>
<rect x="68.6" y="147.93" width="35.3" height="19.49" fill="#00b3d8"/>
<rect x="102.9" y="147.93" width="35.3" height="19.49" fill="#00afdd"/>
<rect x="137.2" y="147.93" width="35.3" height="19.49" fill="#00aedf"/>
<rect x="171.5" y="147.93" width="35.3" height="19.49" fill="#00ade0"/>
<rect x="205.8" y="147.93" width="35.3" height="19.49" fill="#00a9e3"/>
<rect x="240.1" y="147.93" width="35.3" height="19.49" fill="#008bf8"/>
<rect x="274.4" y="147.93" width="35.3" height="19.49" fill="#4321ad"/>
<rect x="308.7" y="147.93" width="35.3" height="19.49" fill="#472fd0"/>
<rect x="343" y="147.93" width="34.3" height="19.49" fill="#4628bf"/>
<rect x="0" y="166.42" width="35.3" height="19.49" fill="#00ce62"/>
<rect x="34.3" y="166.42" width="35.3" height="19.49" fill="#00ce6d"/>
<rect x="68.6" y="166.42" width="35.3" height="19.49" fill="#00ce72"/>
<rect x="102.9" y="166.42" width="35.3" height="19.49" fill="#00ce70"/>
<rect x="137.2" y="166.42" width="35.3" height="19.49" fill="#00ce63"/>
<rect x="171.5" y="166.42" width="35.3" height="19.49" fill="#00ce6e"/>
<rect x="205.8" y="166.42" width="35.3" height="19.49" fill="#00ce71"/>
<rect x="240.1" y="166.42" width="35.3" height="19.49" fill="#00cd7b"/>
<rect x="274.4" y="166.42" width="35.3" height="19.49" fill="#00cd82"/>
<rect x="308.7" y="166.42" width="35.3" height="19.49" fill="#00c89c"/>
<rect x="343" y="166.42" width="34.3" height="19.49" fill="#00c5a6"/>
<rect x="0" y="184.91" width="35.3" height="18.49" fill="#ffbb21"/>
<rect x="34.3" y="184.91" width="35.3" height="18.49" fill="#ffbb21"/>
<rect x="68.6" y="184.91" width="35.3" height="18.49" fill="#ffbb25"/>
<rect x="102.9" y="184.91" width="35.3" height="18.49" fill="#ffbb22"/>
<rect x="137.2" y="184.91" width="35.3" height="18.49" fill="#ffbb1f"/>
<rect x="171.5" y="184.91" width="35.3" height="18.49" fill="#ffbb1b"/>
<rect x="205.8" y="184.91" width="35.3" height="18.49" fill="#f8bc0d"/>
<rect x="240.1" y="184.91" width="35.3" height="18.49" fill="#febc19"/>
<rect x="274.4" y="184.91" width="35.3" height="18.49" fill="#f5bc05"/>
<rect x="308.7" y="184.91" width="35.3" height="18.49" fill="#f4bd04"/>
<rect x="343" y="184.91" width="34.3" height="18.49" fill="#f2bd01"/>
</g>
<g stroke="#000" stroke-opacity="0.1" stroke-width="0.7">
<line x1="0" x2="377.3" y1="9.25" y2="9.25"/>
<line x1="0" x2="377.3" y1="27.74" y2="27.74"/>
<line x1="0" x2="377.3" y1="46.23" y2="46.23"/>
<line x1="0" x2="377.3" y1="64.72" y2="64.72"/>
<line x1="0" x2="377.3" y1="83.21" y2="83.21"/>
<line x1="0" x2="377.3" y1="101.7" y2="101.7"/>
<line x1="0" x2="377.3" y1="120.19" y2="120.19"/>
<line x1="0" x2="377.3" y1="138.68" y2="138.68"/>
<line x1="0" x2="377.3" y1="157.17" y2="157.17"/>
<line x1="0" x2="377.3" y1="175.66" y2="175.66"/>
<line x1="0" x2="377.3" y1="194.15" y2="194.15"/>
</g>
<g stroke="#262626" stroke-opacity="0.7" stroke-width="0.7">
<line x1="0" x2="3.8" y1="9.25" y2="9.25"/>
<line x1="373.5" x2="377.3" y1="9.25" y2="9.25"/>
<line x1="0" x2="3.8" y1="27.74" y2="27.74"/>
<line x1="373.5" x2="377.3" y1="27.74" y2="27.74"/>
<line x1="0" x2="3.8" y1="46.23" y2="46.23"/>
<line x1="373.5" x2="377.3" y1="46.23" y2="46.23"/>
<line x1="0" x2="3.8" y1="64.72" y2="64.72"/>
<line x1="373.5" x2="377.3" y1="64.72" y2="64.72"/>
<line x1="0" x2="3.8" y1="83.21" y2="83.21"/>
<line x1="373.5" x2="377.3" y1="83.21" y2="83.21"/>
<line x1="0" x2="3.8" y1="101.7" y2="101.7"/>
<line x1="373.5" x2="377.3" y1="101.7" y2="101.7"/>
<line x1="0" x2="3.8" y1="120.19" y2="120.19"/>
<line x1="373.5" x2="377.3" y1="120.19" y2="120.19"/>
<line x1="0" x2="3.8" y1="138.68" y2="138.68"/>
<line x1="373.5" x2="377.3" y1="138.68" y2="138.68"/>
<line x1="0" x2="3.8" y1="157.17" y2="157.17"/>
<line x1="373.5" x2="377.3" y1="157.17" y2="157.17"/>
<line x1="0" x2="3.8" y1="175.66" y2="175.66"/>
<line x1="373.5" x2="377.3" y1="175.66" y2="175.66"/>
<line x1="0" x2="3.8" y1="194.15" y2="194.15"/>
<line x1="373.5" x2="377.3" y1="194.15" y2="194.15"/>
<line x1="17.15" x2="17.15" y1="0" y2="3.8"/>
<line x1="17.15" x2="17.15" y1="199.6" y2="203.4"/>
<line x1="51.45" x2="51.45" y1="0" y2="3.8"/>
<line x1="51.45" x2="51.45" y1="199.6" y2="203.4"/>
<line x1="85.75" x2="85.75" y1="0" y2="3.8"/>
<line x1="85.75" x2="85.75" y1="199.6" y2="203.4"/>
<line x1="120.05" x2="120.05" y1="0" y2="3.8"/>
<line x1="120.05" x2="120.05" y1="199.6" y2="203.4"/>
<line x1="154.35" x2="154.35" y1="0" y2="3.8"/>
<line x1="154.35" x2="154.35" y1="199.6" y2="203.4"/>
<line x1="188.65" x2="188.65" y1="0" y2="3.8"/>
<line x1="188.65" x2="188.65" y1="199.6" y2="203.4"/>
<line x1="222.95" x2="222.95" y1="0" y2="3.8"/>
<line x1="222.95" x2="222.95" y1="199.6" y2="203.4"/>
<line x1="257.25" x2="257.25" y1="0" y2="3.8"/>
<line x1="257.25" x2="257.25" y1="199.6" y2="203.4"/>
<line x1="291.55" x2="291.55" y1="0" y2="3.8"/>
<line x1="291.55" x2="291.55" y1="199.6" y2="203.4"/>
<line x1="325.85" x2="325.85" y1="0" y2="3.8"/>
<line x1="325.85" x2="325.85" y1="199.6" y2="203.4"/>
<line x1="360.15" x2="360.15" y1="0" y2="3.8"/>
<line x1="360.15" x2="360.15" y1="199.6" y2="203.4"/>
</g>
<g class="v">
<text transform="translate(17.15,9.65) rotate(-45)" y="2.9">2</text>
<text transform="translate(51.45,9.65) rotate(-45)" y="2.9">3.87</text>
<text transform="translate(85.75,9.65) rotate(-45)" y="2.9">4.02</text>
<text transform="translate(120.05,9.65) rotate(-45)" y="2.9">3.66</text>
<text transform="translate(154.35,9.65) rotate(-45)" y="2.9">3.75</text>
<text transform="translate(188.65,9.65) rotate(-45)" y="2.9">3.69</text>
<text transform="translate(222.95,9.65) rotate(-45)" y="2.9">2.78</text>
<text transform="translate(257.25,9.65) rotate(-45)" y="2.9">2.55</text>
<text transform="translate(291.55,9.65) rotate(-45)" y="2.9">1.38</text>
<text transform="translate(325.85,9.65) rotate(-45)" y="2.9">0.505</text>
<text transform="translate(360.15,9.65) rotate(-45)" y="2.9">-3.86</text>
<text transform="translate(17.15,28.14) rotate(-45)" y="2.9">-16.5</text>
<text transform="translate(51.45,28.14) rotate(-45)" y="2.9">-17.6</text>
<text transform="translate(85.75,28.14) rotate(-45)" y="2.9">-18.4</text>
<text transform="translate(120.05,28.14) rotate(-45)" y="2.9">-25.5</text>
<text transform="translate(154.35,28.14) rotate(-45)" y="2.9">-7.91</text>
<text transform="translate(188.65,28.14) rotate(-45)" y="2.9">-8.25</text>
<text transform="translate(222.95,28.14) rotate(-45)" y="2.9">-7.55</text>
<text transform="translate(257.25,28.14) rotate(-45)" y="2.9">-7.13</text>
<text transform="translate(291.55,28.14) rotate(-45)" y="2.9">-8.24</text>
<text transform="translate(325.85,28.14) rotate(-45)" y="2.9">-7.64</text>
<text transform="translate(360.15,28.14) rotate(-45)" y="2.9">-6.14</text>
<text transform="translate(17.15,46.63) rotate(-45)" y="2.9">-12.3</text>
<text transform="translate(51.45,46.63) rotate(-45)" y="2.9">-8.63</text>
<text transform="translate(85.75,46.63) rotate(-45)" y="2.9">-7.27</text>
<text transform="translate(120.05,46.63) rotate(-45)" y="2.9">-6.44</text>
<text transform="translate(154.35,46.63) rotate(-45)" y="2.9">-7.81</text>
<text transform="translate(188.65,46.63) rotate(-45)" y="2.9">-7.34</text>
<text transform="translate(222.95,46.63) rotate(-45)" y="2.9">-6.77</text>
<text transform="translate(257.25,46.63) rotate(-45)" y="2.9">-6.66</text>
<text transform="translate(291.55,46.63) rotate(-45)" y="2.9">-6.01</text>
<text transform="translate(325.85,46.63) rotate(-45)" y="2.9">-4.62</text>
<text transform="translate(360.15,46.63) rotate(-45)" y="2.9">-0.608</text>
<text transform="translate(17.15,65.12) rotate(-45)" y="2.9">-34.2</text>
<text transform="translate(51.45,65.12) rotate(-45)" y="2.9">-30.3</text>
<text transform="translate(85.75,65.12) rotate(-45)" y="2.9">-10.1</text>
<text transform="translate(120.05,65.12) rotate(-45)" y="2.9">-3.06</text>
<text transform="translate(154.35,65.12) rotate(-45)" y="2.9">-1.67</text>
<text transform="translate(188.65,65.12) rotate(-45)" y="2.9">0.417</text>
<text transform="translate(222.95,65.12) rotate(-45)" y="2.9">3.7</text>
<text transform="translate(257.25,65.12) rotate(-45)" y="2.9">2.99</text>
<text transform="translate(291.55,65.12) rotate(-45)" y="2.9">-0.818</text>
<text transform="translate(325.85,65.12) rotate(-45)" y="2.9">-8.19</text>
<text transform="translate(360.15,65.12) rotate(-45)" y="2.9">-4.21</text>
<text transform="translate(17.15,83.61) rotate(-45)" y="2.9">-8.92</text>
<text transform="translate(51.45,83.61) rotate(-45)" y="2.9">-8.16</text>
<text transform="translate(85.75,83.61) rotate(-45)" y="2.9">-11.6</text>
<text transform="translate(120.05,83.61) rotate(-45)" y="2.9">-16.3</text>
<text transform="translate(154.35,83.61) rotate(-45)" y="2.9">-13.9</text>
<text transform="translate(188.65,83.61) rotate(-45)" y="2.9">-12.4</text>
<text transform="translate(222.95,83.61) rotate(-45)" y="2.9">-14</text>
<text transform="translate(257.25,83.61) rotate(-45)" y="2.9">-13.7</text>
<text transform="translate(291.55,83.61) rotate(-45)" y="2.9">-19.1</text>
<text transform="translate(325.85,83.61) rotate(-45)" y="2.9">-11.5</text>
<text transform="translate(360.15,83.61) rotate(-45)" y="2.9">-3.9</text>
<text transform="translate(17.15,102.1) rotate(-45)" y="2.9">-31.1</text>
<text transform="translate(51.45,102.1) rotate(-45)" y="2.9">-27.4</text>
<text transform="translate(85.75,102.1) rotate(-45)" y="2.9">-27.6</text>
<text transform="translate(120.05,102.1) rotate(-45)" y="2.9">-26.7</text>
<text transform="translate(154.35,102.1) rotate(-45)" y="2.9">-36.4</text>
<text transform="translate(188.65,102.1) rotate(-45)" y="2.9">-29.4</text>
<text transform="translate(222.95,102.1) rotate(-45)" y="2.9">-33.6</text>
<text transform="translate(257.25,102.1) rotate(-45)" y="2.9">-32.5</text>
<text transform="translate(291.55,102.1) rotate(-45)" y="2.9">-28.3</text>
<text transform="translate(325.85,102.1) rotate(-45)" y="2.9">-30.4</text>
<text transform="translate(360.15,102.1) rotate(-45)" y="2.9">-29.8</text>
<text transform="translate(17.15,120.59) rotate(-45)" y="2.9">-57.7</text>
<text transform="translate(51.45,120.59) rotate(-45)" y="2.9">-57.8</text>
<text transform="translate(85.75,120.59) rotate(-45)" y="2.9">-55.2</text>
<text transform="translate(120.05,120.59) rotate(-45)" y="2.9">-56.6</text>
<text transform="translate(154.35,120.59) rotate(-45)" y="2.9">-52.1</text>
<text transform="translate(188.65,120.59) rotate(-45)" y="2.9">-48.9</text>
<text transform="translate(222.95,120.59) rotate(-45)" y="2.9">-45.7</text>
<text transform="translate(257.25,120.59) rotate(-45)" y="2.9">-49.1</text>
<text transform="translate(291.55,120.59) rotate(-45)" y="2.9">-49.2</text>
<text transform="translate(325.85,120.59) rotate(-45)" y="2.9">-47.2</text>
<text transform="translate(360.15,120.59) rotate(-45)" y="2.9">-48.1</text>
<text transform="translate(17.15,139.08) rotate(-45)" y="2.9">-69.7</text>
<text transform="translate(51.45,139.08) rotate(-45)" y="2.9">-67.5</text>
<text transform="translate(85.75,139.08) rotate(-45)" y="2.9">-69.1</text>
<text transform="translate(120.05,139.08) rotate(-45)" y="2.9">-67.7</text>
<text transform="translate(154.35,139.08) rotate(-45)" y="2.9">-64.5</text>
<text transform="translate(188.65,139.08) rotate(-45)" y="2.9">-65.6</text>
<text transform="translate(222.95,139.08) rotate(-45)" y="2.9">-74.8</text>
<text transform="translate(257.25,139.08) rotate(-45)" y="2.9">-84.3</text>
<text transform="translate(291.55,139.08) rotate(-45)" y="2.9">-82.5</text>
<text transform="translate(325.85,139.08) rotate(-45)" y="2.9">-79.5</text>
<text transform="translate(360.15,139.08) rotate(-45)" y="2.9">-75.7</text>
<text transform="translate(17.15,157.57) rotate(-45)" y="2.9">-56.2</text>
<text transform="translate(51.45,157.57) rotate(-45)" y="2.9">-55.7</text>
<text transform="translate(85.75,157.57) rotate(-45)" y="2.9">-56.1</text>
<text transform="translate(120.05,157.57) rotate(-45)" y="2.9">-57.8</text>
<text transform="translate(154.35,157.57) rotate(-45)" y="2.9">-58.2</text>
<text transform="translate(188.65,157.57) rotate(-45)" y="2.9">-58.8</text>
<text transform="translate(222.95,157.57) rotate(-45)" y="2.9">-60.1</text>
<text transform="translate(257.25,157.57) rotate(-45)" y="2.9">-70.4</text>
<text transform="translate(291.55,157.57) rotate(-45)" y="2.9">-102</text>
<text transform="translate(325.85,157.57) rotate(-45)" y="2.9">-96.5</text>
<text transform="translate(360.15,157.57) rotate(-45)" y="2.9">-98.9</text>
<text transform="translate(17.15,176.06) rotate(-45)" y="2.9">-33.9</text>
<text transform="translate(51.45,176.06) rotate(-45)" y="2.9">-35.2</text>
<text transform="translate(85.75,176.06) rotate(-45)" y="2.9">-35.9</text>
<text transform="translate(120.05,176.06) rotate(-45)" y="2.9">-35.6</text>
<text transform="translate(154.35,176.06) rotate(-45)" y="2.9">-34.1</text>
<text transform="translate(188.65,176.06) rotate(-45)" y="2.9">-35.4</text>
<text transform="translate(222.95,176.06) rotate(-45)" y="2.9">-35.8</text>
<text transform="translate(257.25,176.06) rotate(-45)" y="2.9">-37.1</text>
<text transform="translate(291.55,176.06) rotate(-45)" y="2.9">-38</text>
<text transform="translate(325.85,176.06) rotate(-45)" y="2.9">-42.4</text>
<text transform="translate(360.15,176.06) rotate(-45)" y="2.9">-44.2</text>
<text transform="translate(17.15,194.55) rotate(-45)" y="2.9">-15.8</text>
<text transform="translate(51.45,194.55) rotate(-45)" y="2.9">-15.8</text>
<text transform="translate(85.75,194.55) rotate(-45)" y="2.9">-15.2</text>
<text transform="translate(120.05,194.55) rotate(-45)" y="2.9">-15.7</text>
<text transform="translate(154.35,194.55) rotate(-45)" y="2.9">-16</text>
<text transform="translate(188.65,194.55) rotate(-45)" y="2.9">-16.5</text>
<text transform="translate(222.95,194.55) rotate(-45)" y="2.9">-17.6</text>
<text transform="translate(257.25,194.55) rotate(-45)" y="2.9">-16.7</text>
<text transform="translate(291.55,194.55) rotate(-45)" y="2.9">-18.1</text>
<text transform="translate(325.85,194.55) rotate(-45)" y="2.9">-18.2</text>
<text transform="translate(360.15,194.55) rotate(-45)" y="2.9">-18.5</text>
</g>
<rect x="0" y="0" width="377.3" height="203.4" fill="none" stroke="#262626" stroke-opacity="0.65" stroke-width="0.7"/>
</g>
<g class="yl">
<text x="51.1" y="316.35">February</text>
<text x="51.1" y="334.84">March</text>
<text x="51.1" y="353.33">April</text>
<text x="51.1" y="371.82">May</text>
<text x="51.1" y="390.31">June</text>
<text x="51.1" y="408.8">July</text>
<text x="51.1" y="427.29">August</text>
<text x="51.1" y="445.78">September</text>
<text x="51.1" y="464.27">October</text>
<text x="51.1" y="482.76">November</text>
<text x="51.1" y="501.25">December</text>
</g>
<g class="xl">
<text transform="translate(81.25,520.3) rotate(-45)">10<tspan class="sup" dy="-4.4">th</tspan><tspan dy="4.4"> day</tspan></text>
<text transform="translate(115.55,520.3) rotate(-45)">11<tspan class="sup" dy="-4.4">th</tspan><tspan dy="4.4"> day</tspan></text>
<text transform="translate(149.85,520.3) rotate(-45)">12<tspan class="sup" dy="-4.4">th</tspan><tspan dy="4.4"> day</tspan></text>
<text transform="translate(184.15,520.3) rotate(-45)">13<tspan class="sup" dy="-4.4">th</tspan><tspan dy="4.4"> day</tspan></text>
<text transform="translate(218.45,520.3) rotate(-45)">14<tspan class="sup" dy="-4.4">th</tspan><tspan dy="4.4"> day</tspan></text>
<text transform="translate(252.75,520.3) rotate(-45)">15<tspan class="sup" dy="-4.4">th</tspan><tspan dy="4.4"> day</tspan></text>
<text transform="translate(287.05,520.3) rotate(-45)">16<tspan class="sup" dy="-4.4">th</tspan><tspan dy="4.4"> day</tspan></text>
<text transform="translate(321.35,520.3) rotate(-45)">17<tspan class="sup" dy="-4.4">th</tspan><tspan dy="4.4"> day</tspan></text>
<text transform="translate(355.65,520.3) rotate(-45)">18<tspan class="sup" dy="-4.4">th</tspan><tspan dy="4.4"> day</tspan></text>
<text transform="translate(389.95,520.3) rotate(-45)">19<tspan class="sup" dy="-4.4">th</tspan><tspan dy="4.4"> day</tspan></text>
<text transform="translate(424.25,520.3) rotate(-45)">20<tspan class="sup" dy="-4.4">th</tspan><tspan dy="4.4"> day</tspan></text>
</g>
<defs><linearGradient id="g2" x1="0" y1="0" x2="0" y2="1"><stop offset="0%" stop-color="#fff400"/><stop offset="0.78%" stop-color="#fff300"/><stop offset="1.56%" stop-color="#fff100"/><stop offset="2.34%" stop-color="#ffef00"/><stop offset="3.12%" stop-color="#ffee00"/><stop offset="3.91%" stop-color="#ffec00"/><stop offset="4.69%" stop-color="#ffea00"/><stop offset="5.47%" stop-color="#ffe700"/><stop offset="6.25%" stop-color="#ffe400"/><stop offset="7.03%" stop-color="#ffe100"/><stop offset="7.81%" stop-color="#ffde00"/><stop offset="8.59%" stop-color="#ffdb00"/><stop offset="9.38%" stop-color="#ffd800"/><stop offset="10.16%" stop-color="#ffd400"/><stop offset="10.94%" stop-color="#ffd100"/><stop offset="11.72%" stop-color="#ffce06"/><stop offset="12.5%" stop-color="#ffcb0f"/><stop offset="13.28%" stop-color="#ffc817"/><stop offset="14.06%" stop-color="#ffc61d"/><stop offset="14.84%" stop-color="#ffc322"/><stop offset="15.62%" stop-color="#ffc027"/><stop offset="16.41%" stop-color="#ffbe29"/><stop offset="17.19%" stop-color="#ffbc2a"/><stop offset="17.97%" stop-color="#ffbb27"/><stop offset="18.75%" stop-color="#ffbb21"/><stop offset="19.53%" stop-color="#ffbb1a"/><stop offset="20.31%" stop-color="#fabc10"/><stop offset="21.09%" stop-color="#f4bd03"/><stop offset="21.88%" stop-color="#eebd00"/><stop offset="22.66%" stop-color="#e8be00"/><stop offset="23.44%" stop-color="#e1bf00"/><stop offset="24.22%" stop-color="#dbc000"/><stop offset="25%" stop-color="#d3c100"/><stop offset="25.78%" stop-color="#cbc300"/><stop offset="26.56%" stop-color="#c3c400"/><stop offset="27.34%" stop-color="#bac504"/><stop offset="28.12%" stop-color="#b1c610"/><stop offset="28.91%" stop-color="#a7c71a"/><stop offset="29.69%" stop-color="#9cc823"/><stop offset="30.47%" stop-color="#8fca2b"/><stop offset="31.25%" stop-color="#82cb34"/><stop offset="32.03%" stop-color="#74cb3c"/><stop offset="32.81%" stop-color="#63cc44"/><stop offset="33.59%" stop-color="#50cd4c"/><stop offset="34.38%" stop-color="#36cd53"/><stop offset="35.16%" stop-color="#00ce5a"/><stop offset="35.94%" stop-color="#00ce62"/><stop offset="36.72%" stop-color="#00ce69"/><stop offset="37.5%" stop-color="#00ce6f"/><stop offset="38.28%" stop-color="#00cd76"/><stop offset="39.06%" stop-color="#00cd7c"/><stop offset="39.84%" stop-color="#00cd82"/><stop offset="40.62%" stop-color="#00cc87"/><stop offset="41.41%" stop-color="#00cb8d"/><stop offset="42.19%" stop-color="#00ca92"/><stop offset="42.97%" stop-color="#00c996"/><stop offset="43.75%" stop-color="#00c89b"/><stop offset="44.53%" stop-color="#00c79f"/><stop offset="45.31%" stop-color="#00c6a3"/><stop offset="46.09%" stop-color="#00c5a8"/><stop offset="46.88%" stop-color="#00c4ab"/><stop offset="47.66%" stop-color="#00c3af"/><stop offset="48.44%" stop-color="#00c2b3"/><stop offset="49.22%" stop-color="#00c1b7"/><stop offset="50%" stop-color="#00c0ba"/><stop offset="50.78%" stop-color="#00bebe"/><stop offset="51.56%" stop-color="#00bdc1"/><stop offset="52.34%" stop-color="#00bcc5"/><stop offset="53.12%" stop-color="#00bbc8"/><stop offset="53.91%" stop-color="#00b9cc"/><stop offset="54.69%" stop-color="#00b8cf"/><stop offset="55.47%" stop-color="#00b6d2"/><stop offset="56.25%" stop-color="#00b5d5"/><stop offset="57.03%" stop-color="#00b3d8"/><stop offset="57.81%" stop-color="#00b1db"/><stop offset="58.59%" stop-color="#00afdd"/><stop offset="59.38%" stop-color="#00ade0"/><stop offset="60.16%" stop-color="#00abe2"/><stop offset="60.94%" stop-color="#00a9e4"/><stop offset="61.72%" stop-color="#00a7e5"/><stop offset="62.5%" stop-color="#00a4e6"/><stop offset="63.28%" stop-color="#00a2e8"/><stop offset="64.06%" stop-color="#00a0e9"/><stop offset="64.84%" stop-color="#009dea"/><stop offset="65.62%" stop-color="#009bec"/><stop offset="66.41%" stop-color="#0099ee"/><stop offset="67.19%" stop-color="#0096f0"/><stop offset="67.97%" stop-color="#0094f1"/><stop offset="68.75%" stop-color="#0091f3"/><stop offset="69.53%" stop-color="#008ff6"/><stop offset="70.31%" stop-color="#008cf8"/><stop offset="71.09%" stop-color="#0089fa"/><stop offset="71.88%" stop-color="#0086fb"/><stop offset="72.66%" stop-color="#0084fd"/><stop offset="73.44%" stop-color="#0081fe"/><stop offset="74.22%" stop-color="#007eff"/><stop offset="75%" stop-color="#007bff"/><stop offset="75.78%" stop-color="#0078ff"/><stop offset="76.56%" stop-color="#0075ff"/><stop offset="77.34%" stop-color="#0071ff"/><stop offset="78.12%" stop-color="#086eff"/><stop offset="78.91%" stop-color="#1b6bff"/><stop offset="79.69%" stop-color="#2568ff"/><stop offset="80.47%" stop-color="#2b65ff"/><stop offset="81.25%" stop-color="#3162ff"/><stop offset="82.03%" stop-color="#355fff"/><stop offset="82.81%" stop-color="#385cfe"/><stop offset="83.59%" stop-color="#3b59fd"/><stop offset="84.38%" stop-color="#3e56fc"/><stop offset="85.16%" stop-color="#4054fa"/><stop offset="85.94%" stop-color="#4151f8"/><stop offset="86.72%" stop-color="#434ef6"/><stop offset="87.5%" stop-color="#444bf4"/><stop offset="88.28%" stop-color="#4548f2"/><stop offset="89.06%" stop-color="#4645ef"/><stop offset="89.84%" stop-color="#4742ec"/><stop offset="90.62%" stop-color="#483fe9"/><stop offset="91.41%" stop-color="#483ce6"/><stop offset="92.19%" stop-color="#4839e2"/><stop offset="92.97%" stop-color="#4836de"/><stop offset="93.75%" stop-color="#4833da"/><stop offset="94.53%" stop-color="#4831d4"/><stop offset="95.31%" stop-color="#472fcf"/><stop offset="96.09%" stop-color="#472cca"/><stop offset="96.88%" stop-color="#462ac4"/><stop offset="97.66%" stop-color="#4528bf"/><stop offset="98.44%" stop-color="#4526b9"/><stop offset="99.22%" stop-color="#4423b3"/><stop offset="100%" stop-color="#4321ad"/></linearGradient></defs>
<rect x="438.3" y="302.4" width="10.3" height="203.4" fill="url(#g2)" stroke="#262626" stroke-opacity="0.55" stroke-width="0.7"/>
<g stroke="#262626" stroke-opacity="0.7" stroke-width="0.7">
<line x1="446.6" x2="448.6" y1="310.15" y2="310.15"/>
<line x1="446.6" x2="448.6" y1="329.42" y2="329.42"/>
<line x1="446.6" x2="448.6" y1="348.7" y2="348.7"/>
<line x1="446.6" x2="448.6" y1="367.98" y2="367.98"/>
<line x1="446.6" x2="448.6" y1="387.25" y2="387.25"/>
<line x1="446.6" x2="448.6" y1="406.53" y2="406.53"/>
<line x1="446.6" x2="448.6" y1="425.8" y2="425.8"/>
<line x1="446.6" x2="448.6" y1="445.08" y2="445.08"/>
<line x1="446.6" x2="448.6" y1="464.36" y2="464.36"/>
<line x1="446.6" x2="448.6" y1="483.63" y2="483.63"/>
<line x1="446.6" x2="448.6" y1="502.91" y2="502.91"/>
</g>
<g class="cl">
<text x="452.5" y="313.65">0</text>
<text x="452.5" y="332.92">-10</text>
<text x="452.5" y="352.2">-20</text>
<text x="452.5" y="371.48">-30</text>
<text x="452.5" y="390.75">-40</text>
<text x="452.5" y="410.03">-50</text>
<text x="452.5" y="429.3">-60</text>
<text x="452.5" y="448.58">-70</text>
<text x="452.5" y="467.86">-80</text>
<text x="452.5" y="487.13">-90</text>
<text x="452.5" y="506.41">-100</text>
</g>
</svg>
</body></html>
